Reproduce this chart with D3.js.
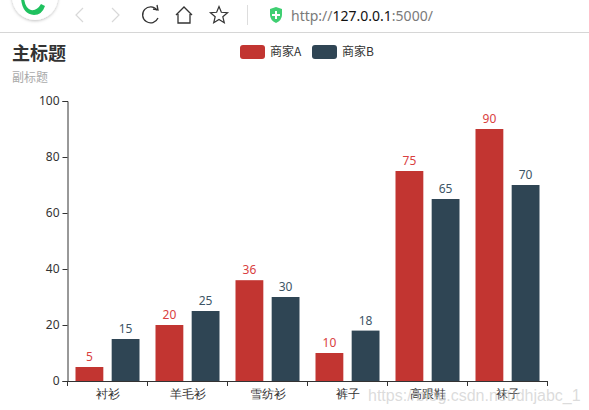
<!DOCTYPE html>
<html>
<head>
<meta charset="utf-8">
<script src="https://cdn.jsdelivr.net/npm/d3@7"></script>
<style>
  html, body { margin: 0; padding: 0; background: #fff; overflow: hidden; }
  svg { display: block; font-family: "Microsoft YaHei", "Noto Sans CJK SC", sans-serif; }
</style>
</head>
<body>
<script>
// chart data
const categories = ["衬衫", "羊毛衫", "雪纺衫", "裤子", "高跟鞋", "袜子"];
const seriesNames = ["商家A", "商家B"];
const valuesA = [5, 20, 36, 10, 75, 90];
const valuesB = [15, 25, 30, 18, 65, 70];
const yTicks = [0, 20, 40, 60, 80, 100];
const colors = ["#c23531", "#2f4554"];
const labelColors = ["#d94040", "#3d5566"];

const width = 589, height = 410;
const plotLeft = 67.5, plotRight = 547.5, plotTop = 101, plotBottom = 381;

const svg = d3.select("body").append("svg")
    .attr("width", width)
    .attr("height", height);

// ---- browser toolbar (part of the screenshot) ----
const bar = svg.append("g").attr("class", "toolbar");

bar.append("line")
    .attr("x1", 0).attr("x2", width)
    .attr("y1", 32.5).attr("y2", 32.5)
    .attr("stroke", "#d6d6d6");

const shadow = svg.append("defs").append("filter").attr("id", "sh")
    .attr("x", "-50%").attr("y", "-50%").attr("width", "200%").attr("height", "200%");
shadow.append("feDropShadow").attr("dx", 0).attr("dy", 1).attr("stdDeviation", 1.5)
    .attr("flood-color", "#000").attr("flood-opacity", 0.25);

bar.append("circle").attr("cx", 35).attr("cy", -3).attr("r", 23)
    .attr("fill", "#fff").attr("filter", "url(#sh)");
bar.append("path")
    .attr("d", "M21,-2 Q22,14 34,15 Q42,15 45,6 L41,4 Q37,11 31,10 Q25,8 24,-2 Z")
    .attr("fill", "#1fc15f");

// back / forward
bar.append("path").attr("d", "M83,8 L76,15 L83,22").attr("fill", "none")
    .attr("stroke", "#d8d8d8").attr("stroke-width", 1.2);
bar.append("path").attr("d", "M112,8 L119,15 L112,22").attr("fill", "none")
    .attr("stroke", "#d8d8d8").attr("stroke-width", 1.2);
// reload
bar.append("path").attr("d", "M157,10 A8,8 0 1 0 158,18").attr("fill", "none")
    .attr("stroke", "#333").attr("stroke-width", 1.3);
bar.append("path").attr("d", "M153,9 L158,10 L157,5").attr("fill", "none")
    .attr("stroke", "#333").attr("stroke-width", 1.3);
// home
bar.append("path").attr("d", "M176,15 L184,7 L192,15 M178,14 L178,23 L190,23 L190,14")
    .attr("fill", "none").attr("stroke", "#333").attr("stroke-width", 1.3);
// star
const star = d3.range(10).map(i => {
  const r = i % 2 ? 4 : 9, a = -Math.PI / 2 + i * Math.PI / 5;
  return [219 + r * Math.cos(a), 15.5 + r * Math.sin(a)];
});
bar.append("path").attr("d", "M" + star.join("L") + "Z")
    .attr("fill", "none").attr("stroke", "#333").attr("stroke-width", 1.2);
// separator
bar.append("line").attr("x1", 247.5).attr("x2", 247.5).attr("y1", 5).attr("y2", 25)
    .attr("stroke", "#ddd");
// shield
bar.append("path")
    .attr("d", "M270,9 L276,7 L282,9 L282,15 Q282,20 276,23 Q270,20 270,15 Z")
    .attr("fill", "#3fcf72");
bar.append("path").attr("d", "M276,11 L276,19 M272,15 L280,15")
    .attr("stroke", "#fff").attr("stroke-width", 2);
// url
const url = bar.append("text").attr("x", 291).attr("y", 20.5)
    .style("font-family", "'Microsoft YaHei', 'Noto Sans', sans-serif")
    .style("font-size", "14px");
url.append("tspan").attr("fill", "#7a7a7a").text("http://");
url.append("tspan").attr("fill", "#111").text("127.0.0.1");
url.append("tspan").attr("fill", "#7a7a7a").text(":5000/");

// ---- chart ----
svg.append("text").attr("x", 12).attr("y", 59.5)
    .attr("fill", "#333").style("font-size", "18px").style("font-weight", "bold")
    .text("主标题");
svg.append("text").attr("x", 12).attr("y", 81.5)
    .attr("fill", "#aaa").style("font-size", "12px")
    .text("副标题");

// legend
const legend = svg.append("g");
const legendX = [240, 312];
seriesNames.forEach((name, i) => {
  legend.append("rect")
      .attr("x", legendX[i]).attr("y", 45)
      .attr("width", 25).attr("height", 14)
      .attr("rx", 3)
      .attr("fill", colors[i]);
  legend.append("text")
      .attr("x", legendX[i] + 30).attr("y", 52)
      .attr("dy", "0.35em")
      .attr("fill", "#333").style("font-size", "12px")
      .text(name);
});

// echarts defaults: 20% category gap, bar gap 30% of a bar width
const x0 = d3.scaleBand().domain(categories).range([plotLeft, plotRight]).paddingInner(0.2).paddingOuter(0.1);
const x1 = d3.scaleBand().domain(seriesNames).range([0, x0.bandwidth()]).paddingInner(0.3 / 1.3);
const y = d3.scaleLinear().domain([0, 100]).range([plotBottom, plotTop]);

// y axis
const yAxis = svg.append("g")
    .attr("transform", `translate(${plotLeft},0)`)
    .call(d3.axisLeft(y).tickValues(yTicks).tickSize(5).tickPadding(3));
yAxis.select(".domain").attr("stroke", "#333");
yAxis.selectAll(".tick line").attr("stroke", "#333");
yAxis.selectAll(".tick text").attr("fill", "#333")
    .style("font-size", "12px").style("font-family", "'Microsoft YaHei', 'Noto Sans', sans-serif");

// x axis, ticks at band boundaries like echarts
const xOuter = d3.scaleBand().domain(categories).range([plotLeft, plotRight]);
const xAxis = svg.append("g")
    .attr("transform", `translate(0,${plotBottom})`)
    .call(d3.axisBottom(xOuter).tickSizeOuter(0).tickSize(0).tickPadding(8));
xAxis.select(".domain").attr("stroke", "#333").attr("d", `M${plotLeft},0.5H${plotRight}`);
xAxis.selectAll(".tick line").remove();
xAxis.selectAll(".tick text").attr("fill", "#333").style("font-size", "12px");
xAxis.selectAll(".bound")
    .data(d3.range(categories.length + 1))
    .join("line")
    .attr("class", "bound")
    .attr("x1", i => plotLeft + i * xOuter.step())
    .attr("x2", i => plotLeft + i * xOuter.step())
    .attr("y1", 0).attr("y2", 5)
    .attr("stroke", "#333");

// bars
const seriesData = [valuesA, valuesB];
seriesData.forEach((vals, s) => {
  const g = svg.append("g");
  g.selectAll("rect")
      .data(vals)
      .join("rect")
      .attr("x", (d, i) => x0(categories[i]) + x1(seriesNames[s]))
      .attr("y", d => y(d))
      .attr("width", x1.bandwidth())
      .attr("height", d => y(0) - y(d))
      .attr("fill", colors[s]);
  g.selectAll("text")
      .data(vals)
      .join("text")
      .attr("x", (d, i) => x0(categories[i]) + x1(seriesNames[s]) + x1.bandwidth() / 2)
      .attr("y", d => y(d) - 6)
      .attr("text-anchor", "middle")
      .attr("fill", labelColors[s])
      .style("font-size", "12px")
      .style("font-family", "'Microsoft YaHei', 'Noto Sans', sans-serif")
      .text(d => d);
});

// watermark from the screenshot
svg.append("text")
    .attr("x", 368).attr("y", 401)
    .attr("fill", "rgba(190,190,190,0.55)")
    .style("font-family", "Arial, 'Liberation Sans', sans-serif")
    .style("font-size", "16px")
    .text("https://blog.csdn.net/dhjabc_1");
</script>
</body>
</html>
